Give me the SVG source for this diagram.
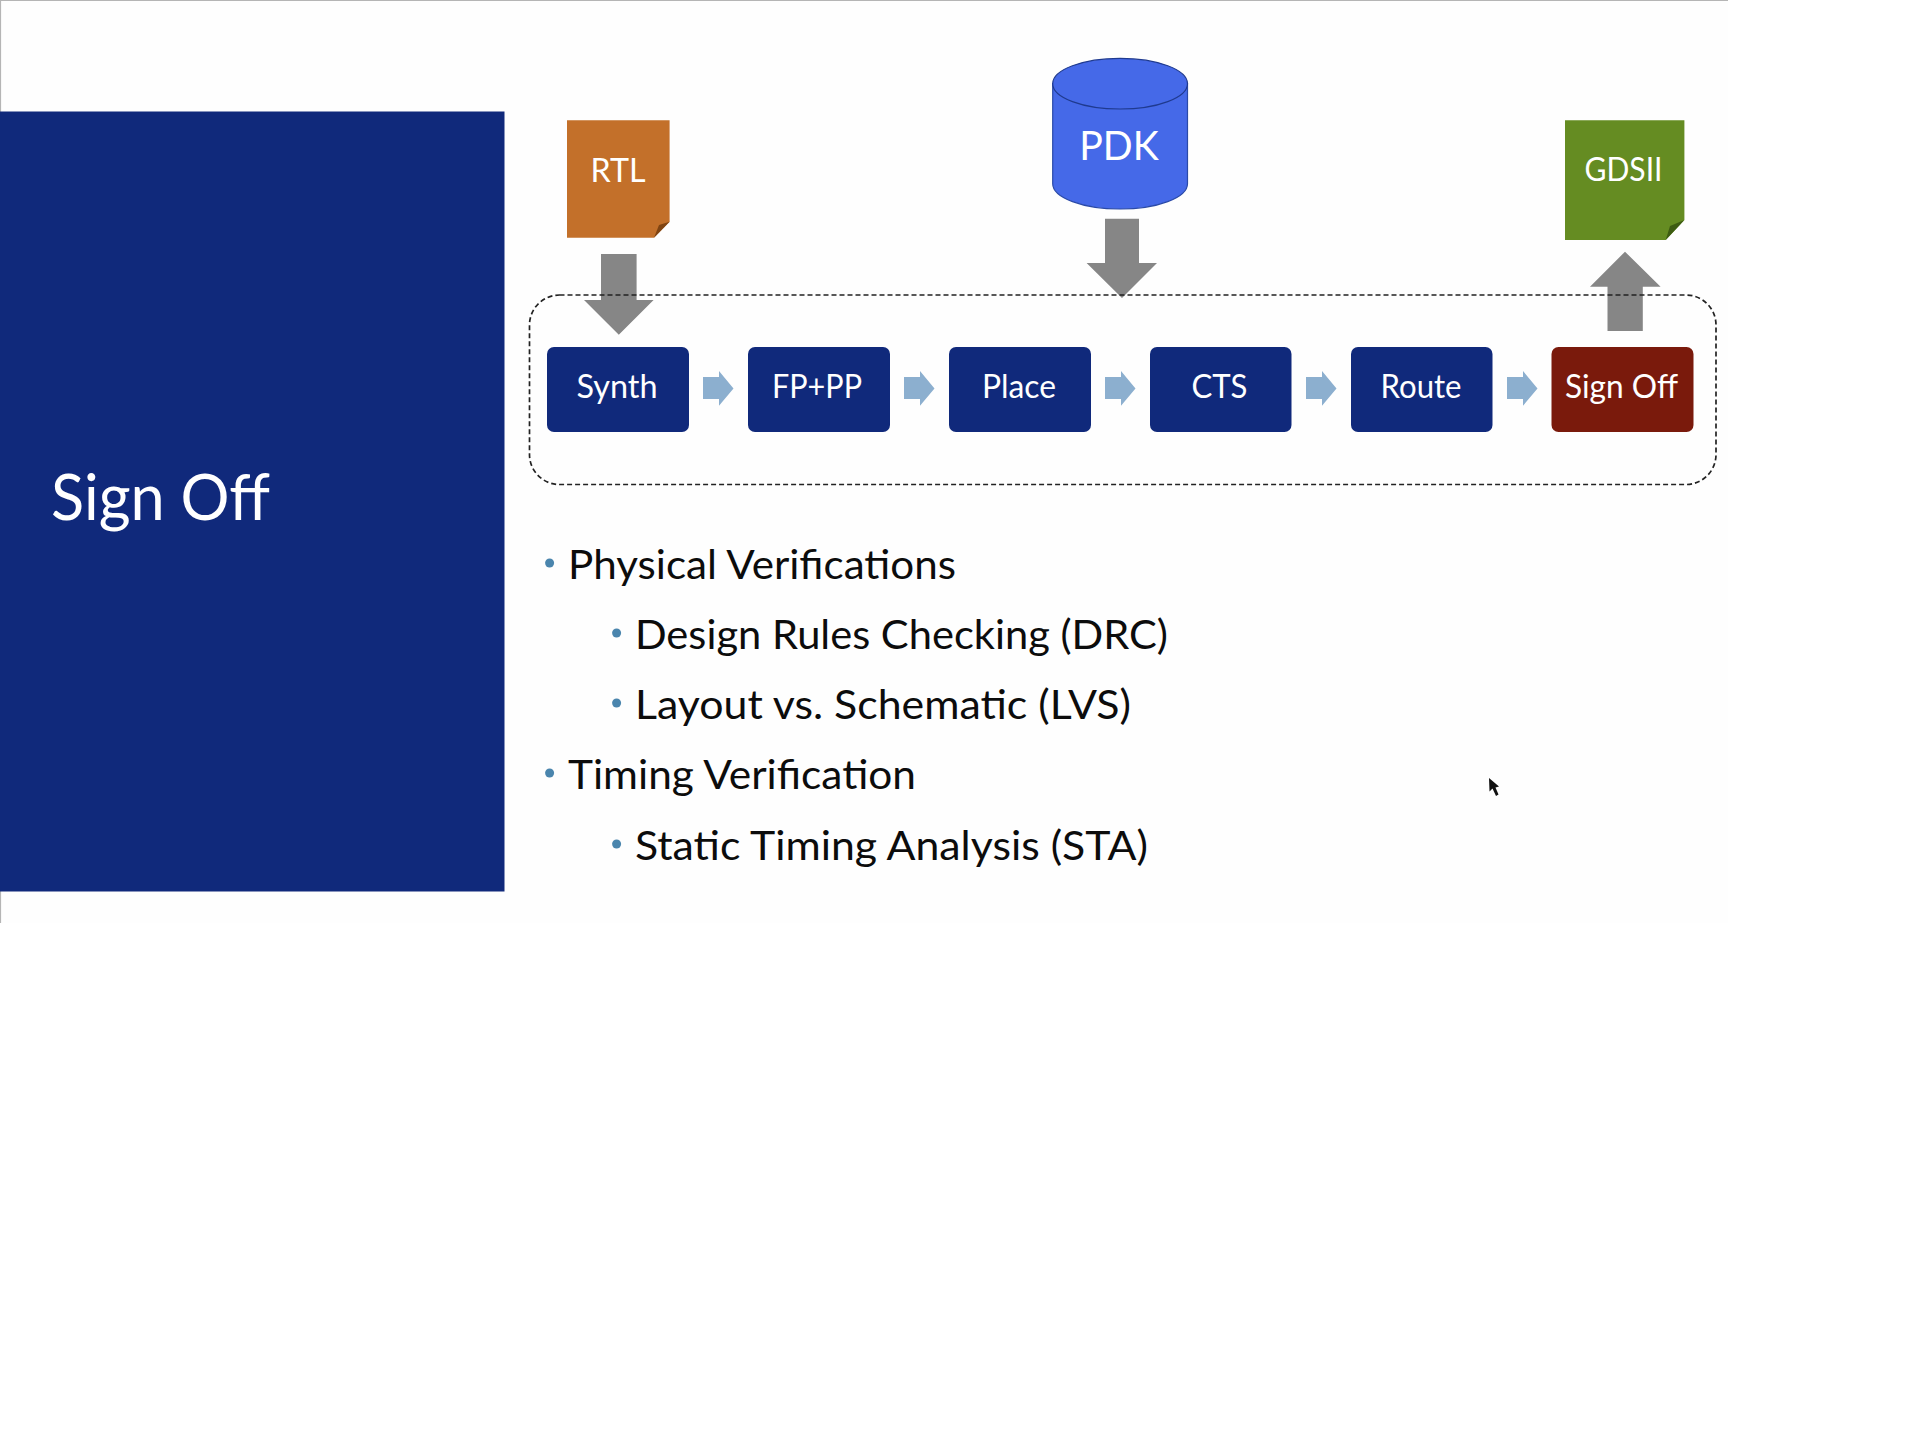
<svg xmlns="http://www.w3.org/2000/svg" width="1918" height="1444" viewBox="0 0 1918 1444">
<style>
text{font-family:"Lato","Open Sans","Liberation Sans",sans-serif}
.step{stroke:none}
.lbl{fill:#fff;font-size:32px}
.body{fill:#0c0c0c;font-size:41px}
.bul{fill:#4a85ad}
.big{fill:#868686}
.small{fill:#8cafcf}
</style>
<rect x="0" y="0" width="1918" height="1444" fill="#fff"/>
<rect x="0" y="0" width="1728" height="923" fill="#fefefe"/>
<path d="M0.5 923V0.5H1728" fill="none" stroke="#b5b5b5" stroke-width="1.2"/>
<g id="title-panel">
<rect x="0" y="111.5" width="504.5" height="780" fill="#10297b"/>
<text x="51" y="520" fill="#fff" font-size="64" textLength="219" lengthAdjust="spacingAndGlyphs">Sign Off</text>
</g>
<g id="node-rtl">
<path d="M567 120.3H669.6V221.7L654 237.7H567Z" fill="#c3702a"/>
<path d="M654 237.7L659 225L669.6 221.7Z" fill="#7f4412"/>
<text class="lbl" x="618" y="182" text-anchor="middle" textLength="55" lengthAdjust="spacingAndGlyphs">RTL</text>
</g>
<g id="node-pdk">
<path d="M1052.7 83.7V183.7A67.4 25.3 0 0 0 1187.5 183.7V83.7Z" fill="#4569e8" stroke="#2a4aa8" stroke-width="1.2"/>
<ellipse cx="1120.1" cy="83.7" rx="67.4" ry="25.3" fill="#4569e8" stroke="#1f3a8f" stroke-width="1.2"/>
<text x="1119" y="160" fill="#fff" font-size="41" text-anchor="middle" textLength="79.5" lengthAdjust="spacingAndGlyphs">PDK</text>
</g>
<g id="node-gdsii">
<path d="M1565 120.3H1684.4V220L1665.7 240H1565Z" fill="#658c22"/>
<path d="M1665.7 240L1670 226L1684.4 220Z" fill="#3d5c12"/>
<text class="lbl" x="1623.5" y="181" text-anchor="middle" textLength="78" lengthAdjust="spacingAndGlyphs">GDSII</text>
</g>
<g id="node-synth">
<rect class="step" x="547" y="347" width="142" height="85" rx="7" fill="#10297b"/>
<text class="lbl" x="617" y="398" text-anchor="middle" textLength="81" lengthAdjust="spacingAndGlyphs">Synth</text>
</g>
<g id="node-fppp">
<rect class="step" x="748" y="347" width="142" height="85" rx="7" fill="#10297b"/>
<text class="lbl" x="817" y="398" text-anchor="middle" textLength="90" lengthAdjust="spacingAndGlyphs">FP+PP</text>
</g>
<g id="node-place">
<rect class="step" x="949" y="347" width="142" height="85" rx="7" fill="#10297b"/>
<text class="lbl" x="1019" y="398" text-anchor="middle" textLength="74" lengthAdjust="spacingAndGlyphs">Place</text>
</g>
<g id="node-cts">
<rect class="step" x="1150" y="347" width="141.5" height="85" rx="7" fill="#10297b"/>
<text class="lbl" x="1219.5" y="398" text-anchor="middle" textLength="56" lengthAdjust="spacingAndGlyphs">CTS</text>
</g>
<g id="node-route">
<rect class="step" x="1351" y="347" width="141.5" height="85" rx="7" fill="#10297b"/>
<text class="lbl" x="1421" y="398" text-anchor="middle" textLength="81" lengthAdjust="spacingAndGlyphs">Route</text>
</g>
<g id="node-signoff">
<rect class="step" x="1551.5" y="347" width="142" height="85" rx="7" fill="#7a1a0c"/>
<text class="lbl" x="1621.5" y="398" text-anchor="middle" textLength="113" lengthAdjust="spacingAndGlyphs">Sign Off</text>
</g>
<g id="connectors">
<path class="big" d="M601 254H636.6V300H653.6L618.8 334.7L584 300H601Z"/>
<path class="big" d="M1105 218.7H1139V263H1157L1122 298L1086.6 263H1105Z"/>
<path class="big" d="M1607.5 331H1642.8V286.7H1660.6L1625 251.7L1590 286.7H1607.5Z"/>
<path class="small" d="M703 377H719V371L733.5 388.5L719 405.7V399H703Z"/>
<path class="small" d="M904 377H920V371L934.5 388.5L920 405.7V399H904Z"/>
<path class="small" d="M1105 377H1121V371L1135.5 388.5L1121 405.7V399H1105Z"/>
<path class="small" d="M1306 377H1322V371L1336.5 388.5L1322 405.7V399H1306Z"/>
<path class="small" d="M1507 377H1523V371L1537.5 388.5L1523 405.7V399H1507Z"/>
</g>
<rect id="flow-boundary" x="529.5" y="295" width="1186.5" height="189.5" rx="30" ry="30" fill="none" stroke="#222" stroke-width="1.7" stroke-dasharray="5 3"/>
<g id="bullets">
<circle class="bul" cx="549.6" cy="563" r="4.5"/>
<text class="body" x="568" y="579.3" textLength="388" lengthAdjust="spacingAndGlyphs">Physical Verifications</text>
<circle class="bul" cx="616.6" cy="633" r="4.5"/>
<text class="body" x="635" y="649.3" textLength="533" lengthAdjust="spacingAndGlyphs">Design Rules Checking (DRC)</text>
<circle class="bul" cx="616.6" cy="703" r="4.5"/>
<text class="body" x="635" y="719.3" textLength="496" lengthAdjust="spacingAndGlyphs">Layout vs. Schematic (LVS)</text>
<circle class="bul" cx="549.6" cy="773" r="4.5"/>
<text class="body" x="568" y="789.3" textLength="348" lengthAdjust="spacingAndGlyphs">Timing Verification</text>
<circle class="bul" cx="616.6" cy="844" r="4.5"/>
<text class="body" x="635" y="860" textLength="513" lengthAdjust="spacingAndGlyphs">Static Timing Analysis (STA)</text>
</g>
<path id="cursor" d="M1489 778L1489.5 791.5L1492.5 788.5L1496 796L1498.5 794.5L1495.5 787.5L1499 786.5Z" fill="#111"/>
</svg>
